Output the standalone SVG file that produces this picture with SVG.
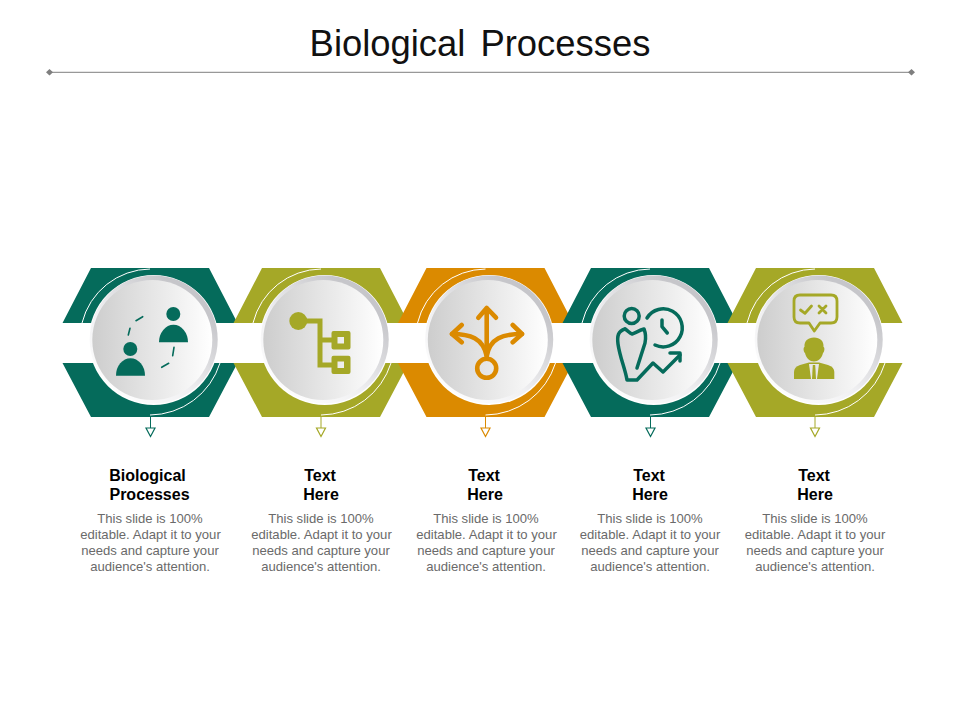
<svg xmlns="http://www.w3.org/2000/svg" width="960" height="720" viewBox="0 0 960 720">
<style>
text{font-family:"Liberation Sans",Arial,sans-serif;text-anchor:middle}
.title{font-size:36.400px;word-spacing:5px;fill:#111}
.head{font-size:16px;font-weight:bold;fill:#000}
.body{font-size:13.100px;fill:#6a6a6a}
.t{fill:#056b5b}.o{fill:#a5a827}.a{fill:#db8a00}
.halo{fill:#fff}.ring{fill:url(#rg)}.disc{fill:url(#dg)}
.arc{fill:none;stroke:#fff;stroke-width:1}
.ts{stroke:#056b5b}.os{stroke:#a5a827}.as{stroke:#db8a00}
.ic{fill:none;stroke-linecap:round;stroke-linejoin:round}
.tip{fill:#fff;stroke-width:1.200}
</style>
<defs>
<linearGradient id="dg" x1="0" y1="0" x2="1" y2="0"><stop offset="0" stop-color="#cdcdcd"/><stop offset="1" stop-color="#fff"/></linearGradient>
<linearGradient id="rg" x1="0.150" y1="0.950" x2="0.800" y2="0.200"><stop offset="0" stop-color="#fff"/><stop offset="0.450" stop-color="#f0f0f2"/><stop offset="1" stop-color="#c6c6ca"/></linearGradient>
<g id="hexshape">
<path d="M-59 268H59L87.500 323H-87.500ZM-87.500 363H87.500L59 417H-59Z"/>
</g>
<g id="face">
<circle class="halo" cx="3.700" cy="340" r="65"/>
<circle class="ring" cx="3.700" cy="339.500" r="64"/>
<circle class="disc" cx="2.300" cy="340" r="60"/>
</g>
<g id="arcs">
<path class="arc" d="M-68 323A71 71 0 0 1 0 269M70 363A74 74 0 0 1 0 415"/>
</g>
</defs>

<text class="title" x="480" y="56">Biological Processes</text>
<g id="rule" fill="#7f7f7f">
<rect x="49" y="71.800" width="862" height="1"/>
<path d="M49.500 69L53 72.300L49.500 75.500L46 72.300ZM911.500 69L915 72.300L911.500 75.500L908 72.300Z"/>
</g>

<g id="connectors">
<g fill="none">
<path class="ts" d="M150.500 417V428"/><path class="tip ts" d="M146 428H155L150.500 436.500Z"/>
<path class="os" d="M321 417V428"/><path class="tip os" d="M316.500 428H325.500L321 436.500Z"/>
<path class="as" d="M485.500 417V428"/><path class="tip as" d="M481 428H490L485.500 436.500Z"/>
<path class="ts" d="M650.500 417V428"/><path class="tip ts" d="M646 428H655L650.500 436.500Z"/>
<path class="os" d="M815 417V428"/><path class="tip os" d="M810.500 428H819.500L815 436.500Z"/>
</g>
</g>

<g id="node1">
<use href="#hexshape" x="150" class="t"/><use href="#arcs" x="150"/><use href="#face" x="150"/>
<g class="t">
<circle cx="173.300" cy="314" r="7"/><path d="M159 342.300A14.500 17.500 0 0 1 188 342.300Z"/>
<circle cx="130.300" cy="349" r="7"/><path d="M116 375.700A14.500 17.500 0 0 1 145 375.700Z"/>
</g>
<path class="ic ts" stroke-width="1.600" d="M136 320.700L142.700 316.700M128.300 335L130 328.300M174 347.300L172.700 355.700M161.700 367.300L168.700 363.300"/>
<text class="head" x="147.500" y="480.600">Biological</text><text class="head" x="149.500" y="499.600">Processes</text>
<text class="body" x="150" y="523">This slide is 100%</text><text class="body" x="150.500" y="539">editable. Adapt it to your</text><text class="body" x="150" y="555">needs and capture your</text><text class="body" x="150" y="571">audience's attention.</text>
</g>

<g id="node2">
<use href="#hexshape" x="321" class="o"/><use href="#arcs" x="321"/><use href="#face" x="321"/>
<circle class="o" cx="298.300" cy="321" r="9"/>
<path fill="none" class="os" stroke-width="5" d="M298 321H320V365H333M320 340H333"/>
<path class="o" fill-rule="evenodd" d="M333.500 331H348.500Q350.500 331 350.500 333V347.500Q350.500 349.500 348.500 349.500H333.500Q331.500 349.500 331.500 347.500V333Q331.500 331 333.500 331ZM337.500 337V343.500H344V337ZM333.500 355.700H348.500Q350.500 355.700 350.500 357.700V372Q350.500 374 348.500 374H333.500Q331.500 374 331.500 372V357.700Q331.500 355.700 333.500 355.700ZM337.500 361.500V368H344V361.500Z"/>
<text class="head" x="320" y="480.600">Text</text><text class="head" x="321" y="499.600">Here</text>
<text class="body" x="321" y="523">This slide is 100%</text><text class="body" x="321.500" y="539">editable. Adapt it to your</text><text class="body" x="321" y="555">needs and capture your</text><text class="body" x="321" y="571">audience's attention.</text>
</g>

<g id="node3">
<use href="#hexshape" x="485.500" class="a"/><use href="#arcs" x="485.500"/><use href="#face" x="485.500"/>
<g class="ic as" stroke-width="4.600">
<circle cx="486.700" cy="368.300" r="9.500"/>
<path d="M486.700 308V356M478.300 317.700L486.700 308L496 317.700"/>
<path d="M452 334C470 334 483 338 486.700 356C490 338 503 334 522 334"/>
<path d="M461.700 325L452 334L461.700 342.300M512.700 325L522 334L512.700 342.300"/>
</g>
<text class="head" x="484" y="480.600">Text</text><text class="head" x="485" y="499.600">Here</text>
<text class="body" x="486" y="523">This slide is 100%</text><text class="body" x="486.500" y="539">editable. Adapt it to your</text><text class="body" x="486" y="555">needs and capture your</text><text class="body" x="486" y="571">audience's attention.</text>
</g>

<g id="node4">
<use href="#hexshape" x="650" class="t"/><use href="#arcs" x="650"/><use href="#face" x="650"/>
<g class="ic ts" stroke-width="3.500">
<circle cx="631.700" cy="316" r="7.500"/>
<path d="M625 329C618 331 617 336 618 344C620 358 625 368 627 380H637L653 363L663 372L680 355"/>
<path d="M625 329C628 331 630 333 632 334C635 333 640 330 644 329C646 334 646 338 645 343L637 368"/>
<path d="M670 353H680V361"/>
<path d="M647 318A19 19 0 1 1 655 345"/>
<path d="M662 320V326.700L667.300 333"/>
</g>
<text class="head" x="649" y="480.600">Text</text><text class="head" x="650" y="499.600">Here</text>
<text class="body" x="650" y="523">This slide is 100%</text><text class="body" x="650" y="539">editable. Adapt it to your</text><text class="body" x="650" y="555">needs and capture your</text><text class="body" x="650" y="571">audience's attention.</text>
</g>

<g id="node5">
<use href="#hexshape" x="815" class="o"/><use href="#arcs" x="815"/><use href="#face" x="815"/>
<path class="ic os" stroke-width="2.800" d="M800 295H831Q837 295 837 301V317Q837 323 831 323H820L814.300 331L809 323H800Q794 323 794 317V301Q794 295 800 295Z"/>
<path class="ic os" stroke-width="2.800" d="M800.500 310L805 313.300L811.500 306M819 306L826 313M826 306L819 313"/>
<g class="o">
<path d="M804.500 347C804 341 808 337.500 814 337.500C820 337.500 824 341 823.500 347C825 347.500 824.500 352 823 353C822 358 818 361.500 814 361.500C810 361.500 806 358 805 353C803.500 352 803 347.500 804.500 347Z"/>
<path d="M794 379V372Q794 367 800 365L809 362.500H819L828 365Q834.300 367 834.300 372V379Z"/>
</g>
<path fill="#e8e8e8" d="M809 364H819L817 379H811Z"/>
<path class="o" d="M812.800 365H815.200L816 379H812Z"/>
<text class="head" x="814" y="480.600">Text</text><text class="head" x="815" y="499.600">Here</text>
<text class="body" x="815" y="523">This slide is 100%</text><text class="body" x="815" y="539">editable. Adapt it to your</text><text class="body" x="815" y="555">needs and capture your</text><text class="body" x="815" y="571">audience's attention.</text>
</g>
</svg>
